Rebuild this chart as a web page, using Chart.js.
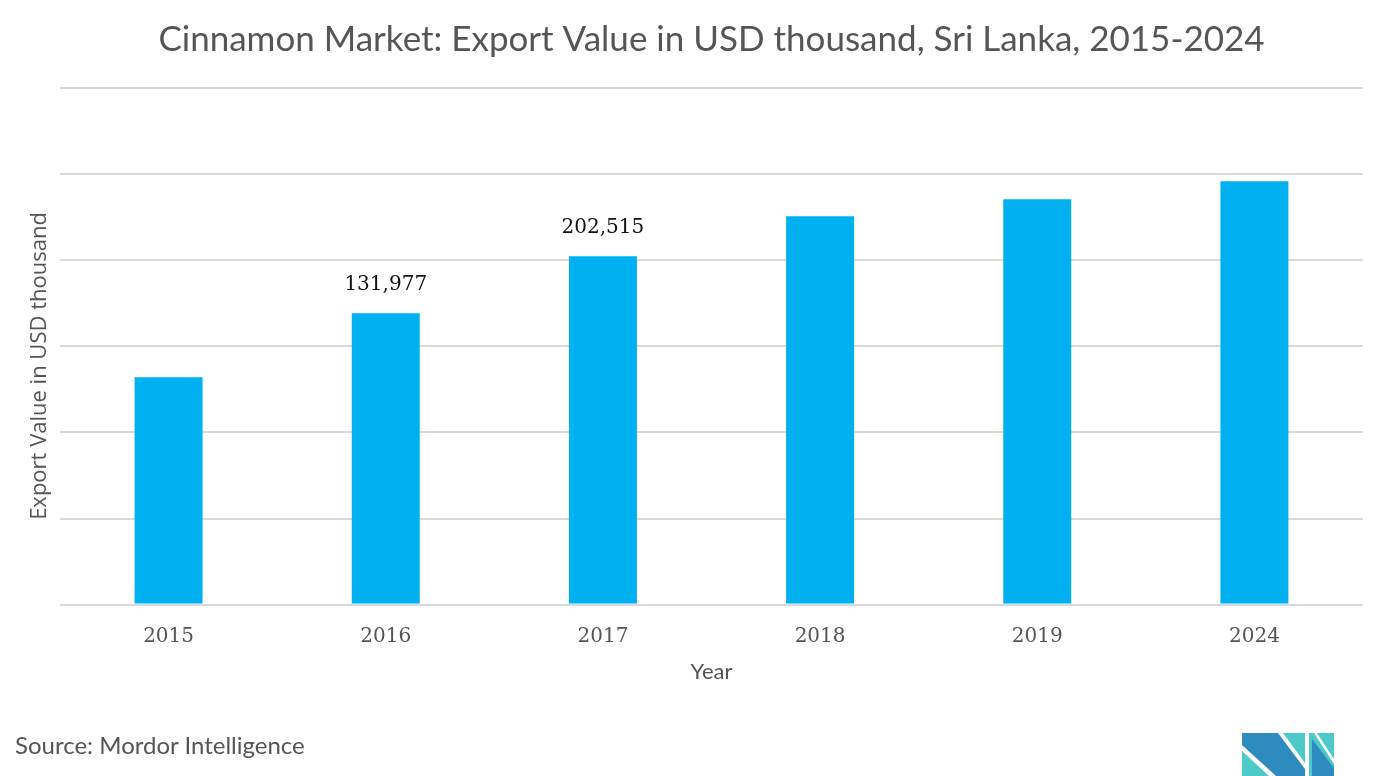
<!DOCTYPE html>
<html>
<head>
<meta charset="utf-8">
<script src="https://cdn.jsdelivr.net/npm/chart.js@4"></script>
<style>
  body { margin:0; background:#fff; }
  #wrap { position:relative; width:1387px; height:776px; }
  #source { position:absolute; left:15px; top:730px; font:24px Lato, sans-serif; color:#555; }
  #logo { position:absolute; left:1242px; top:733px; }
</style>
</head>
<body>
<div id="wrap">
  <canvas id="chart" width="1387" height="776"></canvas>
  <div id="source">Source: Mordor Intelligence</div>
  <svg id="logo" width="92" height="43" viewBox="0 0 92 43">
    <polygon points="0,0 36,0 63,36 63,43 34,43 0,12" fill="#2e8bc0"/>
    <polygon points="0,18 0,43 27,43" fill="#4cc9c9"/>
    <polygon points="41,0 63,0 63,30" fill="#4cc9c9"/>
    <polygon points="67,0 92,0 92,43 67,43" fill="#4cc9c9"/>
    <polygon points="70,6 70,43 92,43 92,35" fill="#2e8bc0"/>
    <polygon points="72,0 75,0 92,26 92,31" fill="#fff"/>
  </svg>
</div>
<script>
// data
const years = ['2015', '2016', '2017', '2018', '2019', '2024'];
const exportValues = [52800, 131977, 202515, 252000, 273000, 295300];
const valueLabels = ['', '131,977', '202,515', '', '', ''];

// labels above some bars + y axis title
const extras = {
    id: 'extras',
    afterDatasetsDraw(chart) {
        const ctx = chart.ctx;
        const meta = chart.getDatasetMeta(0);
        ctx.save();
        ctx.font = '20px "DejaVu Serif", serif';
        ctx.fillStyle = '#111';
        ctx.textAlign = 'center';
        ctx.textBaseline = 'middle';
        meta.data.forEach((bar, i) => {
            if (valueLabels[i]) ctx.fillText(valueLabels[i], bar.x, bar.y - 28);
        });
        ctx.translate(40, 366);
        ctx.rotate(-Math.PI / 2);
        ctx.font = '22px "Open Sans", sans-serif';
        ctx.fillStyle = '#555';
        ctx.fillText('Export Value in USD thousand', 0, 0);
        ctx.restore();
    }
};

const yMin = -228135, yMax = 410415;

new Chart(document.getElementById('chart'), {
    type: 'bar',
    data: {
        labels: years,
        datasets: [{
            data: exportValues,
            base: yMin,
            backgroundColor: '#00b0f0',
            barPercentage: 0.313,
            categoryPercentage: 1
        }]
    },
    options: {
        responsive: false,
        animation: false,
        layout: { padding: { left: 60, right: 24, top: 0, bottom: 91 } },
        plugins: {
            legend: { display: false },
            tooltip: { enabled: false },
            title: {
                display: true,
                text: 'Cinnamon Market: Export Value in USD thousand, Sri Lanka, 2015-2024',
                color: '#555',
                font: { family: 'Lato', size: 35, weight: 'normal' },
                padding: { top: 19, bottom: 27 }
            }
        },
        scales: {
            x: {
                grid: { display: false, drawTicks: false },
                border: { display: false },
                ticks: { color: '#555', font: { family: '"DejaVu Serif"', size: 20 }, padding: 20 },
                title: {
                    display: true, text: 'Year', color: '#555',
                    font: { family: 'Lato', size: 22 },
                    padding: { top: -10, bottom: 0 }
                }
            },
            y: {
                min: yMin,
                max: yMax,
                afterBuildTicks(scale) {
                    const step = (yMax - yMin) / 6;
                    scale.ticks = [0,1,2,3,4,5,6].map(k => ({ value: yMin + k * step }));
                },
                grid: { color: '#d9d9d9', lineWidth: 2, drawTicks: false },
                border: { display: false },
                ticks: { display: false }
            }
        }
    },
    plugins: [extras]
});
</script>
</body>
</html>
